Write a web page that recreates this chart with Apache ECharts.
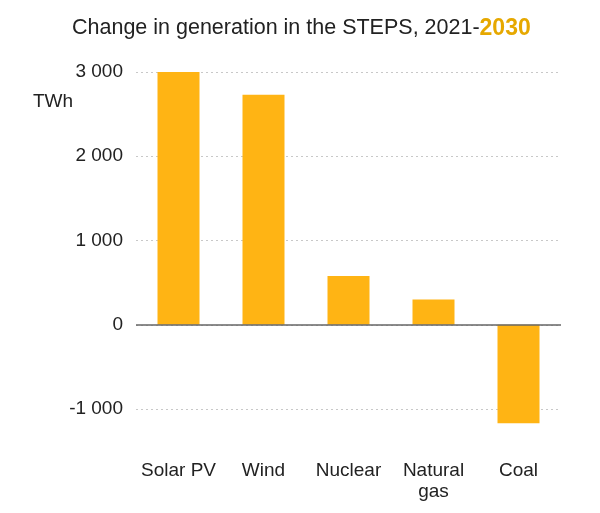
<!DOCTYPE html>
<html>
<head>
<meta charset="utf-8">
<script src="https://cdn.jsdelivr.net/npm/echarts@6/dist/echarts.min.js"></script>
<style>
  html, body { margin: 0; padding: 0; background: #fff; }
  #main { width: 600px; height: 513px; }
</style>
</head>
<body>
<div id="main"></div>
<script>
// data
var categories = ['Solar PV', 'Wind', 'Nuclear', 'Natural\ngas', 'Coal'];
var changeTWh = [3000, 2730, 580, 300, -1170];

var chart = echarts.init(document.getElementById('main'));
var font = '"Liberation Sans", Arial, sans-serif';

function fmt(v) {
  // 3000 -> "3 000"
  var s = String(Math.abs(v)).replace(/\B(?=(\d{3})+(?!\d))/g, ' ');
  return (v < 0 ? '-' : '') + s;
}

var option = {
  backgroundColor: '#fff',
  title: {
    text: '{a|Change in generation in the STEPS, 2021-}{b|2030}',
    left: 67,
    top: 12,
    textStyle: {
      rich: {
        a: { fontFamily: font, fontSize: 21.5, fontWeight: 'normal', color: '#222' },
        b: { fontFamily: font, fontSize: 23, fontWeight: 'bold', color: '#E6A800' }
      }
    }
  },
  graphic: [{
    type: 'text',
    left: 33,
    top: 92,
    style: { text: 'TWh', fontFamily: font, fontSize: 19, fill: '#222' }
  }],
  grid: { left: 136, right: 39, top: 72, bottom: 104 },
  xAxis: {
    type: 'category',
    data: categories,
    axisLine: { show: false, onZero: false },
    axisTick: { show: false },
    axisLabel: {
      interval: 0,
      margin: 51,
      fontFamily: font,
      fontSize: 19,
      color: '#222',
      lineHeight: 21
    }
  },
  yAxis: {
    type: 'value',
    min: -1000,
    max: 3000,
    interval: 1000,
    axisLine: { show: false },
    axisTick: { show: false },
    axisLabel: {
      margin: 13,
      fontFamily: font,
      fontSize: 19,
      color: '#222',
      formatter: fmt
    },
    splitLine: {
      lineStyle: { type: [2, 3], color: '#c8c8c8', width: 1 }
    }
  },
  series: [{
    type: 'bar',
    data: changeTWh,
    barWidth: 42,
    clip: false,
    itemStyle: { color: '#FFB414' },
    markLine: {
      silent: true,
      symbol: 'none',
      label: { show: false },
      lineStyle: { type: 'solid', color: '#666', width: 1.5 },
      data: [{ yAxis: 0 }]
    }
  }]
};
chart.setOption(option);
</script>
</body>
</html>
